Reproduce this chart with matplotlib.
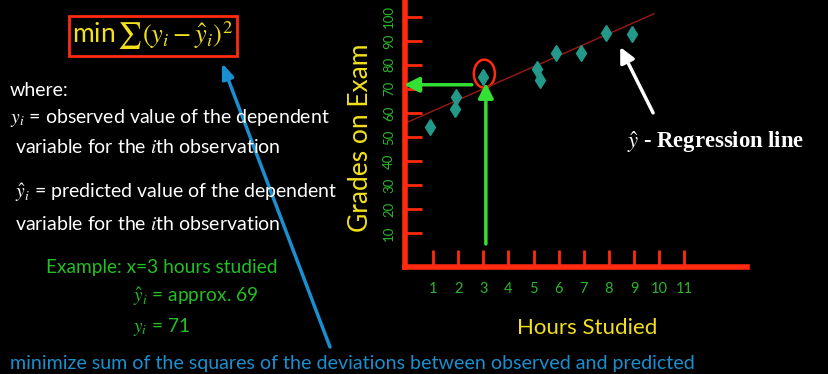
import numpy as np
import matplotlib
matplotlib.use("Agg")
import matplotlib.pyplot as plt
from matplotlib.patches import Ellipse

# data
hours = [0.88, 1.92, 1.88, 2.98, 5.14, 5.27, 5.90, 6.88, 7.88, 8.93]
grades = [54.3, 66.8, 61.7, 74.9, 78.2, 73.8, 84.9, 84.9, 93.2, 92.9]
x_ticks = [1, 2, 3, 4, 5, 6, 7, 8, 9, 10, 11]
y_ticks = [10, 20, 30, 40, 50, 60, 70, 80, 90, 100]
line_x = [-0.05, 9.8]
intercept, slope = 56.2, 4.6
example_x = 3.1
example_y = 71.7

plt.rcParams['mathtext.fontset'] = 'stix'
sans = ['Lato', 'DejaVu Sans']

W, H = 829, 374
fig = plt.figure(figsize=(W / 100, H / 100), dpi=100, facecolor='black')

def fx(x):
    return x / W

def fy(y):
    return 1 - y / H

red = '#ff2a0f'
yellow = '#f2e01c'
tick_green = '#2cb52c'
text_green = '#22c022'
arrow_green = '#33e033'
teal = '#23998a'
blue = '#1a8fd0'

# chart axes
ax = fig.add_axes([fx(405), fy(267), fx(747) - fx(405), fy(0) - fy(267)])
ax.set_facecolor('black')
ax.set_xlim(-0.12, 13.5)
ax.set_ylim(-4.2, 107)
for s in ['top', 'right']:
    ax.spines[s].set_visible(False)
for s in ['left', 'bottom']:
    ax.spines[s].set_color(red)
    ax.spines[s].set_linewidth(4)
ax.set_xticks(x_ticks)
ax.set_yticks(y_ticks)
ax.tick_params(axis='both', direction='in', length=12, width=2, color=red)
ax.tick_params(axis='x', pad=11, labelcolor=tick_green, labelsize=10.5)
ax.tick_params(axis='y', pad=7, labelcolor=tick_green, labelsize=9.5)
for lab in ax.get_xticklabels():
    lab.set_family(sans)
for lab in ax.get_yticklabels():
    lab.set_family(sans)
    lab.set_rotation(90)
    lab.set_va('center')

# regression line and points
lx = np.array(line_x)
ax.plot(lx, intercept + slope * lx, color='#9a1a14', lw=1)
ax.plot(hours, grades, linestyle='none', marker='d', ms=8, color=teal)

# green example arrows
ax.annotate('', xy=(-0.16, example_y), xytext=(2.54, example_y),
            arrowprops=dict(arrowstyle='-|>,head_width=0.45,head_length=0.9',
                            color=arrow_green, lw=2.5, shrinkA=0, shrinkB=0),
            annotation_clip=False)
ax.annotate('', xy=(example_x, 72.5), xytext=(example_x, 5.4),
            arrowprops=dict(arrowstyle='-|>,head_width=0.45,head_length=0.9',
                            color=arrow_green, lw=2.5, shrinkA=0, shrinkB=0))
ax.add_patch(Ellipse((hours[3] + 0.06, 76.3), 0.84, 11.7, fill=False,
                     edgecolor=red, lw=1.8))

# white arrow and label
ax.annotate('', xy=(8.45, 87.4), xytext=(9.76, 60),
            arrowprops=dict(arrowstyle='-|>,head_width=0.45,head_length=0.9',
                            color='white', lw=2.5, shrinkA=0, shrinkB=0))
fig.text(fx(627), fy(142), r'$\hat{y}$ - Regression line', color='white',
         fontsize=16.3, family='Liberation Serif', weight='bold', va='center')

ax.set_ylabel('Grades on Exam', color=yellow, fontsize=19, family=sans)
ax.yaxis.set_label_coords(-0.093, 0.483)
ax.set_xlabel('Hours Studied', color=yellow, fontsize=16, family=sans)
ax.xaxis.set_label_coords(0.532, -0.19)

# left-hand text
fig.text(fx(153), fy(36), r'min$\,\sum(y_i - \hat{y}_i)^2$', color=yellow,
         fontsize=19, family=sans, ha='center', va='center',
         bbox=dict(boxstyle='square,pad=0.15', facecolor='none',
                   edgecolor=red, lw=2))
fs = 14
fig.text(fx(10), fy(90), 'where:', color='white', fontsize=fs, family=sans, va='center')
fig.text(fx(10), fy(118), r'$y_i$ = observed value of the dependent', color='white',
         fontsize=fs, family=sans, va='center')
fig.text(fx(15), fy(147), r'variable for the $i$th observation', color='white',
         fontsize=fs, family=sans, va='center')
fig.text(fx(15), fy(193), r'$\hat{y}_i$ = predicted value of the dependent', color='white',
         fontsize=fs, family=sans, va='center')
fig.text(fx(15), fy(224), r'variable for the $i$th observation', color='white',
         fontsize=fs, family=sans, va='center')
fig.text(fx(46), fy(267), 'Example: x=3 hours studied', color=text_green,
         fontsize=13.8, family=sans, va='center')
fig.text(fx(133), fy(297), r'$\hat{y}_i$ = approx. 69', color=text_green,
         fontsize=13.8, family=sans, va='center')
fig.text(fx(133), fy(327), r'$y_i$ = 71', color=text_green,
         fontsize=13.8, family=sans, va='center')
fig.text(fx(10), fy(364), 'minimize sum of the squares of the deviations between observed and predicted',
         color=blue, fontsize=14.1, family=sans, va='center')

# blue arrow pointing at the formula
ax.annotate('', xy=(222, H - 63), xytext=(330, H - 347),
            xycoords='figure pixels', textcoords='figure pixels',
            arrowprops=dict(arrowstyle='-|>,head_width=0.35,head_length=0.9',
                            color=blue, lw=2.5, shrinkA=0, shrinkB=0))

fig.savefig('out.png', dpi=100, facecolor='black')
